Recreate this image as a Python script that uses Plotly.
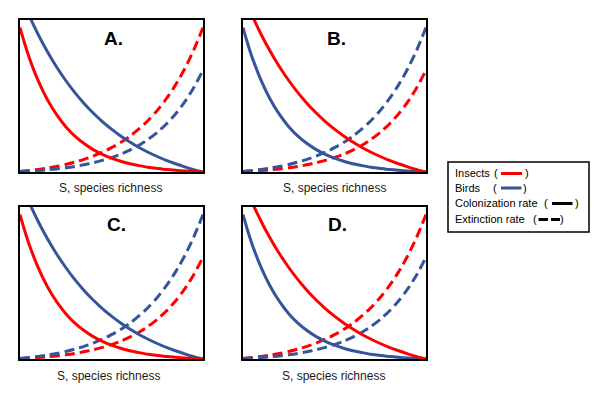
import plotly.graph_objects as go

# The page body adds an 8px margin, so the figure is sized and positioned to
# land on the 606x393 window exactly.
OFF = 8
W, H = 606 - OFF, 393 - OFF


def px(p):
    return (p - OFF) / W


def py(p):
    return 1 - (p - OFF) / H


# x positions (fraction of species richness axis)
x_vals = [0, 0.025, 0.05, 0.1, 0.15, 0.2, 0.25, 0.3, 0.35, 0.4, 0.45, 0.5,
          0.55, 0.6, 0.65, 0.7, 0.75, 0.8, 0.85, 0.9, 0.95, 1.0]

# curve shapes (fraction of panel height)
steep_col = [0.95, 0.847, 0.754, 0.599, 0.475, 0.377, 0.298, 0.236, 0.187, 0.147, 0.116, 0.091,
             0.071, 0.054, 0.042, 0.031, 0.023, 0.016, 0.011, 0.007, 0.003, 0.0]
shallow_col = [1.17, 1.097, 1.029, 0.903, 0.791, 0.691, 0.602, 0.522, 0.451, 0.388, 0.332, 0.282,
               0.237, 0.197, 0.161, 0.130, 0.102, 0.076, 0.054, 0.034, 0.016, 0.0]
high_ext = [0.004, 0.007, 0.010, 0.0165, 0.025, 0.036, 0.0495, 0.0651, 0.0834, 0.105, 0.130, 0.160,
            0.194, 0.235, 0.283, 0.339, 0.405, 0.482, 0.573, 0.679, 0.804, 0.95]
low_ext = [0.004, 0.0055, 0.007, 0.010, 0.0145, 0.020, 0.0274, 0.0366, 0.0475, 0.0606, 0.0762, 0.0949,
           0.117, 0.144, 0.176, 0.215, 0.261, 0.316, 0.382, 0.461, 0.556, 0.67]

panel_labels = ["A.", "B.", "C.", "D."]
# (insects colonization, birds colonization, insects extinction, birds extinction)
panel_series = {
    "A.": (steep_col, shallow_col, high_ext, low_ext),
    "B.": (shallow_col, steep_col, low_ext, high_ext),
    "C.": (steep_col, shallow_col, low_ext, high_ext),
    "D.": (shallow_col, steep_col, high_ext, low_ext),
}
x_title = "S, species richness"
legend_items = ["Insects", "Birds", "Colonization rate", "Extinction rate"]

RED = "#FF0000"
BLUE = "#34559A"

# panel pixel boxes (left, right, top, bottom)
boxes = {
    "A.": (20, 203, 20, 172),
    "B.": (243, 426, 20, 172),
    "C.": (20, 203, 207, 359),
    "D.": (243, 426, 207, 359),
}
title_pos = {"A.": (113, 38.5), "B.": (336, 38.5), "C.": (116, 224), "D.": (337, 224)}
xlab_pos = {"A.": (110.5, 188), "B.": (334, 188), "C.": (108, 375.5), "D.": (333.5, 375.5)}

fig = go.Figure()
annotations = []
layout_axes = {}

for i, lab in enumerate(panel_labels):
    n = "" if i == 0 else str(i + 1)
    xa, ya = "x" + n, "y" + n
    l, r, t, b = boxes[lab]
    ins_c, bir_c, ins_e, bir_e = panel_series[lab]
    for yv, col, dash in [(ins_e, RED, "10px,5px"), (bir_e, BLUE, "10px,5px"),
                          (bir_c, BLUE, "solid"), (ins_c, RED, "solid")]:
        fig.add_trace(go.Scatter(x=x_vals, y=yv, mode="lines",
                                 line=dict(color=col, width=3, dash=dash, shape="spline", smoothing=0.8),
                                 xaxis=xa, yaxis=ya, showlegend=False, hoverinfo="skip"))
    layout_axes["xaxis" + n] = dict(domain=[px(l), px(r)], range=[0, 1], showgrid=False,
                                    zeroline=False, showticklabels=False, ticks="",
                                    showline=True, linecolor="black", linewidth=2, mirror=True,
                                    anchor=ya)
    layout_axes["yaxis" + n] = dict(domain=[py(b), py(t)], range=[0, 1], showgrid=False,
                                    zeroline=False, showticklabels=False, ticks="",
                                    showline=True, linecolor="black", linewidth=2, mirror=True,
                                    anchor=xa)
    tx, ty = title_pos[lab]
    annotations.append(dict(text="<b>" + lab + "</b>", x=px(tx), y=py(ty), xref="paper", yref="paper",
                            showarrow=False, xanchor="center", yanchor="middle",
                            font=dict(size=19, color="black", family="Liberation Sans")))
    lx, ly = xlab_pos[lab]
    annotations.append(dict(text=x_title, x=px(lx), y=py(ly), xref="paper", yref="paper",
                            showarrow=False, xanchor="center", yanchor="middle",
                            font=dict(size=12, color="#1a1a1a", family="Liberation Sans")))

# legend box drawn as shapes + text
shapes = [dict(type="rect", xref="paper", yref="paper", x0=px(448), x1=px(589),
               y0=py(232), y1=py(162), line=dict(color="black", width=1.5))]
leg_y = [173, 187.5, 203, 219]
paren_open = [496, 494.5, 546, 535]
paren_close = [527, 525, 577, 562]
for k, name in enumerate(legend_items):
    yy = py(leg_y[k])
    annotations.append(dict(text=name, x=px(453), y=yy, xref="paper", yref="paper", showarrow=False,
                            xanchor="left", yanchor="middle",
                            font=dict(size=11, color="black", family="Liberation Sans")))
    annotations.append(dict(text="(", x=px(paren_open[k]), y=yy, xref="paper", yref="paper", showarrow=False,
                            xanchor="center", yanchor="middle",
                            font=dict(size=11, color="black", family="Liberation Sans")))
    annotations.append(dict(text=")", x=px(paren_close[k]), y=yy, xref="paper", yref="paper", showarrow=False,
                            xanchor="center", yanchor="middle",
                            font=dict(size=11, color="black", family="Liberation Sans")))

line_specs = [
    [(501, 522, RED)],
    [(501, 521.5, BLUE)],
    [(552, 572.5, "black")],
    [(538.5, 548, "black"), (551, 560, "black")],
]
for k, segs in enumerate(line_specs):
    yy = py(leg_y[k] + 0.5)
    for x0, x1, c in segs:
        shapes.append(dict(type="line", xref="paper", yref="paper", x0=px(x0), x1=px(x1),
                           y0=yy, y1=yy, line=dict(color=c, width=3)))

fig.update_layout(width=W, height=H, margin=dict(l=0, r=0, t=0, b=0),
                  paper_bgcolor="white", plot_bgcolor="white",
                  annotations=annotations, shapes=shapes, **layout_axes)

fig.write_html("out.html")
